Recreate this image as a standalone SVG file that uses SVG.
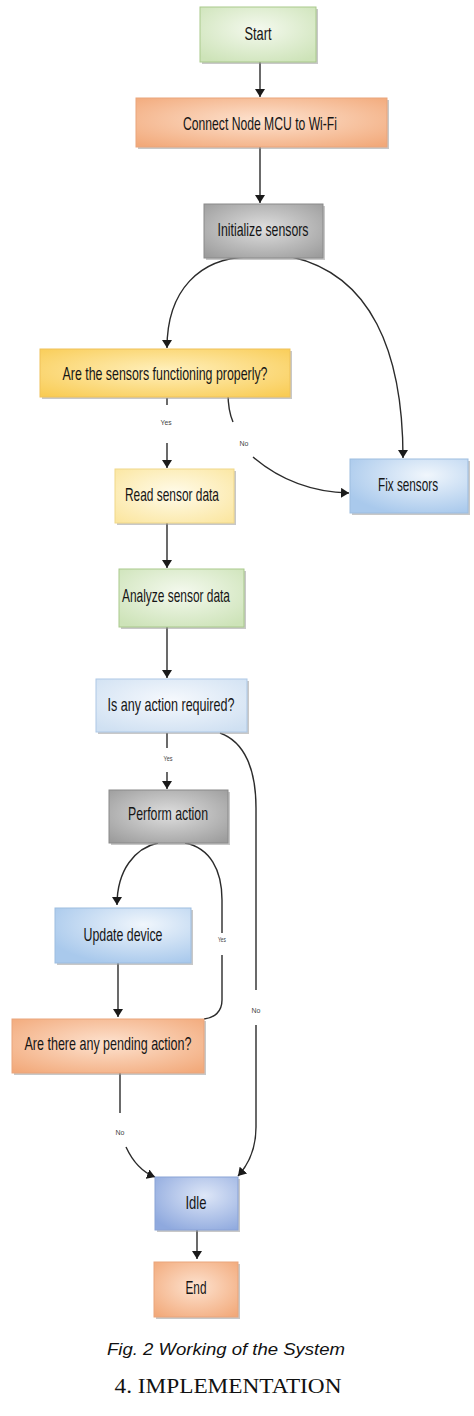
<svg xmlns="http://www.w3.org/2000/svg" width="474" height="1416" viewBox="0 0 474 1416">
<style>
.t{font-family:"Liberation Sans",Arial,sans-serif;font-size:18.5px;fill:#151515;text-anchor:middle}
.s{font-family:"Liberation Sans",Arial,sans-serif;font-size:7px;fill:#444;text-anchor:middle}
.c{fill:none;stroke:#2b2b2b;stroke-width:1.4}
.sh{fill:#9a9a9a;opacity:0.55}
</style>
<defs>
<marker id="ah" markerWidth="8" markerHeight="10" viewBox="0 0 8 10" refX="8" refY="5" orient="auto" markerUnits="userSpaceOnUse"><path d="M0,0 L8,5 L0,10 Z" fill="#1a1a1a"/></marker>
<radialGradient id="gGreen" cx="50%" cy="40%" r="70%"><stop offset="0" stop-color="#f4f9ee"/><stop offset="1" stop-color="#cde3b8"/></radialGradient>
<radialGradient id="gOrange" cx="50%" cy="45%" r="70%"><stop offset="0" stop-color="#fde2cf"/><stop offset="1" stop-color="#f2a97a"/></radialGradient>
<radialGradient id="gGray" cx="50%" cy="45%" r="70%"><stop offset="0" stop-color="#dedede"/><stop offset="1" stop-color="#9c9c9c"/></radialGradient>
<radialGradient id="gGold" cx="50%" cy="45%" r="70%"><stop offset="0" stop-color="#fff0bd"/><stop offset="1" stop-color="#f9cc55"/></radialGradient>
<radialGradient id="gPaleY" cx="50%" cy="45%" r="70%"><stop offset="0" stop-color="#fffbea"/><stop offset="1" stop-color="#fbe6a0"/></radialGradient>
<radialGradient id="gBlue" cx="65%" cy="30%" r="75%"><stop offset="0" stop-color="#f0f6fc"/><stop offset="1" stop-color="#a9c9ec"/></radialGradient>
<radialGradient id="gPaleB" cx="50%" cy="40%" r="70%"><stop offset="0" stop-color="#f6f9fd"/><stop offset="1" stop-color="#cfe0f2"/></radialGradient>
<radialGradient id="gIdle" cx="60%" cy="35%" r="75%"><stop offset="0" stop-color="#dde6f7"/><stop offset="1" stop-color="#8fa9de"/></radialGradient>
</defs>

<g id="connectors">
<path class="c" d="M260,62 V97" marker-end="url(#ah)"/>
<path class="c" d="M260,147 V203" marker-end="url(#ah)"/>
<path class="c" d="M248,257 C200,258 167,290 167,348" marker-end="url(#ah)"/>
<path class="c" d="M292,257 C370,275 403,350 403,458" marker-end="url(#ah)"/>
<path class="c" d="M167,398 V405"/>
<path class="c" d="M167,443 V468" marker-end="url(#ah)"/>
<path class="c" d="M228,393 C228,405 230,415 233,422"/>
<path class="c" d="M253,457 C280,480 310,492 349,493" marker-end="url(#ah)"/>
<path class="c" d="M167,523 V568" marker-end="url(#ah)"/>
<path class="c" d="M167,627 V678" marker-end="url(#ah)"/>
<path class="c" d="M167,733 V748"/>
<path class="c" d="M167,772 V789" marker-end="url(#ah)"/>
<path class="c" d="M220,733 C245,742 256,770 256,808 V990"/>
<path class="c" d="M256,1025 V1127 C256,1150 248,1165 238,1176" marker-end="url(#ah)"/>
<path class="c" d="M158,843 C135,848 117,870 117,905" marker-end="url(#ah)"/>
<path class="c" d="M185,843 C210,848 222,870 222,900 V933"/>
<path class="c" d="M222,955 V1000 C222,1012 214,1018 204,1019"/>
<path class="c" d="M118,963 V1017" marker-end="url(#ah)"/>
<path class="c" d="M120,1073 V1113"/>
<path class="c" d="M126,1147 C132,1160 142,1172 155,1177" marker-end="url(#ah)"/>
<path class="c" d="M197,1230 V1259" marker-end="url(#ah)"/>
<text class="s" x="166" y="425" textLength="11" lengthAdjust="spacingAndGlyphs">Yes</text>
<text class="s" x="244" y="446">No</text>
<text class="s" x="168" y="761" textLength="9" lengthAdjust="spacingAndGlyphs">Yes</text>
<text class="s" x="222" y="942" textLength="8" lengthAdjust="spacingAndGlyphs">Yes</text>
<text class="s" x="256" y="1013">No</text>
<text class="s" x="120" y="1135">No</text>
</g>

<g id="start"><rect class="sh" x="202" y="9" width="116" height="55"/><rect x="200" y="7" width="116" height="55" fill="url(#gGreen)" stroke="#a9c98c" stroke-width="1"/><text class="t" x="258" y="40" textLength="27" lengthAdjust="spacingAndGlyphs">Start</text></g>
<g id="connect"><rect class="sh" x="138" y="100" width="251" height="49"/><rect x="136" y="98" width="251" height="49" fill="url(#gOrange)" stroke="#e9a57c" stroke-width="1"/><text class="t" x="260" y="130" textLength="154" lengthAdjust="spacingAndGlyphs">Connect Node MCU to Wi-Fi</text></g>
<g id="init"><rect class="sh" x="206" y="206" width="119" height="54"/><rect x="204" y="204" width="119" height="54" fill="url(#gGray)" stroke="#8a8a8a" stroke-width="1"/><text class="t" x="263" y="236" textLength="91" lengthAdjust="spacingAndGlyphs">Initialize sensors</text></g>
<g id="check"><rect class="sh" x="42" y="351" width="250" height="48"/><rect x="40" y="349" width="250" height="48" fill="url(#gGold)" stroke="#efc25a" stroke-width="1"/><text class="t" x="165" y="380" textLength="205" lengthAdjust="spacingAndGlyphs">Are the sensors functioning properly?</text></g>
<g id="fix"><rect class="sh" x="352" y="461" width="118" height="54"/><rect x="350" y="459" width="118" height="54" fill="url(#gBlue)" stroke="#9dbde0" stroke-width="1"/><text class="t" x="408" y="491" textLength="60" lengthAdjust="spacingAndGlyphs">Fix sensors</text></g>
<g id="read"><rect class="sh" x="117" y="471" width="119" height="54"/><rect x="115" y="469" width="119" height="54" fill="url(#gPaleY)" stroke="#f0d88a" stroke-width="1"/><text class="t" x="172" y="501" textLength="94" lengthAdjust="spacingAndGlyphs">Read sensor data</text></g>
<g id="analyze"><rect class="sh" x="121" y="571" width="125" height="58"/><rect x="119" y="569" width="125" height="58" fill="url(#gGreen)" stroke="#a9c98c" stroke-width="1"/><text class="t" x="176" y="602" textLength="108" lengthAdjust="spacingAndGlyphs">Analyze sensor data</text></g>
<g id="action-required"><rect class="sh" x="98" y="681" width="151" height="53"/><rect x="96" y="679" width="151" height="53" fill="url(#gPaleB)" stroke="#adc8e6" stroke-width="1"/><text class="t" x="171" y="711" textLength="127" lengthAdjust="spacingAndGlyphs">Is any action required?</text></g>
<g id="perform"><rect class="sh" x="111" y="792" width="119" height="53"/><rect x="109" y="790" width="119" height="53" fill="url(#gGray)" stroke="#8a8a8a" stroke-width="1"/><text class="t" x="168" y="820" textLength="80" lengthAdjust="spacingAndGlyphs">Perform action</text></g>
<g id="update"><rect class="sh" x="57" y="910" width="136" height="55"/><rect x="55" y="908" width="136" height="55" fill="url(#gBlue)" stroke="#9dbde0" stroke-width="1"/><text class="t" x="123" y="941" textLength="79" lengthAdjust="spacingAndGlyphs">Update device</text></g>
<g id="pending"><rect class="sh" x="14" y="1021" width="192" height="54"/><rect x="12" y="1019" width="192" height="54" fill="url(#gOrange)" stroke="#e9a57c" stroke-width="1"/><text class="t" x="108" y="1050" textLength="167" lengthAdjust="spacingAndGlyphs">Are there any pending action?</text></g>
<g id="idle"><rect class="sh" x="157" y="1179" width="83" height="53"/><rect x="155" y="1177" width="83" height="53" fill="url(#gIdle)" stroke="#8aa3d6" stroke-width="1"/><text class="t" x="196" y="1209" textLength="21" lengthAdjust="spacingAndGlyphs">Idle</text></g>
<g id="end"><rect class="sh" x="156" y="1264" width="84" height="55"/><rect x="154" y="1262" width="84" height="55" fill="url(#gOrange)" stroke="#e9a57c" stroke-width="1"/><text class="t" x="196" y="1294" textLength="21" lengthAdjust="spacingAndGlyphs">End</text></g>

<text x="226" y="1355" text-anchor="middle" font-family="'Liberation Sans',Arial,sans-serif" font-style="italic" font-size="17" fill="#111" textLength="238" lengthAdjust="spacingAndGlyphs">Fig. 2 Working of the System</text>
<text x="228" y="1393" text-anchor="middle" font-family="'Liberation Serif','Times New Roman',serif" font-size="21" fill="#111" textLength="227" lengthAdjust="spacingAndGlyphs">4. IMPLEMENTATION</text>
</svg>
